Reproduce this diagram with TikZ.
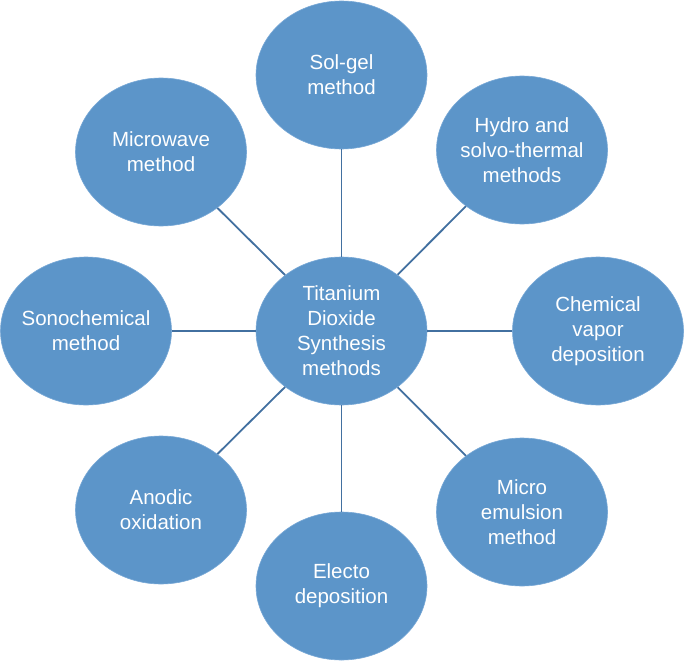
\documentclass[tikz,border=0pt]{standalone}
\usepackage{fontspec}
\setmainfont{Liberation Sans}
\usetikzlibrary{shapes.geometric}
\definecolor{bubble}{RGB}{92,149,201}
\definecolor{bubbleedge}{RGB}{120,168,214}
\definecolor{linkc}{RGB}{66,112,160}
\tikzset{
  bub/.style={ellipse, fill=bubble, draw=bubbleedge, line width=0.6pt,
    minimum width=171pt, minimum height=148pt, inner xsep=-20pt, inner ysep=0pt,
    text=white, align=center, font=\fontsize{20.5}{25}\selectfont},
  link/.style={draw=linkc, line width=1.8pt}
}
\begin{document}
\begin{tikzpicture}[x=1pt,y=-1pt]
\useasboundingbox (0,0) rectangle (685,661);
\node[bub] (c)   at (341.5,331) {Titanium\\Dioxide\\Synthesis\\methods};
\node[bub] (sol) at (341.5,75)  {Sol-gel\\method};
\node[bub] (hyd) at (522,150)   {Hydro and\\solvo-thermal\\methods};
\node[bub] (cvd) at (598,331)   {Chemical\\vapor\\deposition};
\node[bub] (mic) at (522,512)   {Micro\\emulsion\\method};
\node[bub] (ele) at (341.5,586) {Electo\\deposition};
\node[bub] (ano) at (161,510)   {Anodic\\oxidation};
\node[bub] (son) at (86,331)    {Sonochemical\\method};
\node[bub] (mw)  at (161,152)   {Microwave\\method};
\foreach \n in {sol,hyd,cvd,mic,ele,ano,son,mw}
  \draw[link] (c) -- (\n);
\end{tikzpicture}
\end{document}
